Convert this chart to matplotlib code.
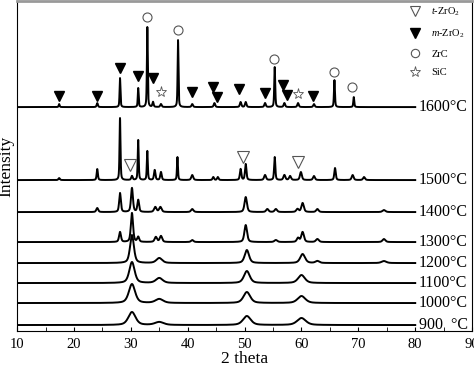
import matplotlib.pyplot as plt
import numpy as np
from matplotlib.lines import Line2D

plt.rcParams["font.family"] = "Liberation Serif"
plt.rcParams["mathtext.fontset"] = "custom"
plt.rcParams["mathtext.rm"] = "Liberation Serif"
plt.rcParams["mathtext.it"] = "Liberation Serif:italic"

# temperature labels and vertical offsets of each pattern
temps = ["1600°C", "1500°C", "1400°C", "1300°C", "1200°C", "1100°C", "1000°C", "900  °C"]
offsets = [224, 151, 119, 89, 68, 48, 28, 6]

# peaks: (2theta, height, fwhm)
peaks_1600 = [(17.4, 3, 0.2), (24.1, 4, 0.25), (28.1, 29, 0.18), (31.3, 19, 0.18),
              (32.9, 80, 0.18), (33.9, 5, 0.25), (35.3, 3, 0.3), (38.3, 67, 0.18),
              (40.8, 3, 0.3), (44.7, 4, 0.3), (49.3, 5, 0.3), (50.2, 5, 0.3),
              (53.6, 4, 0.3), (55.3, 40, 0.2), (57.0, 4, 0.3), (59.4, 4, 0.3),
              (62.2, 3, 0.3), (65.8, 27, 0.2), (69.2, 10, 0.2)]
peaks_1500 = [(17.4, 2, 0.3), (24.1, 11, 0.25), (28.1, 62, 0.2), (30.2, 4, 0.3),
              (31.3, 40, 0.2), (32.9, 29, 0.2), (34.2, 10, 0.3), (35.3, 8, 0.3),
              (38.2, 23, 0.2), (40.8, 5, 0.4), (44.5, 3, 0.3), (45.3, 3, 0.3),
              (49.3, 11, 0.3), (50.2, 16, 0.3), (53.6, 5, 0.4), (55.3, 23, 0.25),
              (57.0, 5, 0.4), (58.0, 4, 0.4), (59.9, 8, 0.4), (62.2, 4, 0.4),
              (65.9, 12, 0.3), (69.0, 5, 0.4), (71.0, 3, 0.4)]
peaks_1400 = [(24.1, 4, 0.4), (28.1, 19, 0.35), (30.2, 24, 0.4), (31.3, 12, 0.35),
              (34.3, 5, 0.5), (35.2, 5, 0.5), (40.8, 3, 0.5), (50.2, 15, 0.5),
              (54.0, 3, 0.5), (55.5, 3, 0.5), (59.3, 3, 0.5), (60.2, 9, 0.5),
              (62.8, 3, 0.5), (74.5, 2, 0.6)]
peaks_1300 = [(28.1, 10, 0.4), (30.2, 29, 0.45), (31.3, 5, 0.4), (34.4, 5, 0.5),
              (35.3, 6, 0.5), (40.8, 2, 0.5), (50.2, 17, 0.55), (55.5, 2, 0.6),
              (59.4, 4, 0.5), (60.2, 10, 0.55), (62.8, 3, 0.6), (74.5, 3, 0.6)]
peaks_1200 = [(30.2, 28, 0.8), (35.0, 5, 1.2), (50.4, 13, 0.9), (60.2, 9, 1.0),
              (62.8, 2, 0.8), (74.5, 2, 1.0)]
peaks_1100 = [(30.2, 21, 1.1), (35.0, 5, 1.4), (50.4, 12, 1.2), (60.0, 8, 1.4)]
peaks_1000 = [(30.2, 19, 1.3), (35.0, 4, 1.6), (50.4, 11, 1.4), (60.0, 7, 1.6)]
peaks_900 = [(30.2, 13, 1.5), (35.0, 3, 1.8), (50.4, 9, 1.6), (60.0, 7, 1.8)]
all_peaks = [peaks_1600, peaks_1500, peaks_1400, peaks_1300,
             peaks_1200, peaks_1100, peaks_1000, peaks_900]

# phase markers: 2theta and height of the symbol
m_zro2_x = [17.4, 24.1, 28.1, 31.3, 33.9, 40.8, 44.5, 45.1, 49.0, 53.6, 56.7, 57.5, 62.0]
m_zro2_y = [235, 235, 263, 255, 253, 239, 244, 234, 242, 238, 246, 236, 235]
zrc_x = [32.9, 38.3, 55.2, 65.7, 68.9]
zrc_y = [314, 301, 272, 259, 244]
sic_x = [35.3, 59.4]
sic_y = [239, 237]
t_zro2_x = [29.9, 49.7, 59.4]
t_zro2_y = [166, 174, 169]

two_theta = np.arange(10, 80.01, 0.02)


def pattern(peaks):
    y = np.zeros_like(two_theta)
    for pos, h, fw in peaks:
        hw = fw / 2
        lor = hw**2 / ((two_theta - pos) ** 2 + hw**2)
        gau = np.exp(-np.log(2) * ((two_theta - pos) / hw) ** 2)
        y += h * (0.5 * lor + 0.5 * gau)
    return y


fig = plt.figure(figsize=(4.74, 3.67), dpi=100)
ax = fig.add_axes([0.036, 0.098, 0.96, 0.899])

for label, off, pk in zip(temps, offsets, all_peaks):
    ax.plot(two_theta, pattern(pk) + off, color="black", lw=1.4)
    ax.text(80.6, off, label, fontsize=11.5, va="center", ha="left")

ax.plot(m_zro2_x, m_zro2_y, "v", ms=6.5, color="black", ls="none")
ax.plot(zrc_x, zrc_y, "o", ms=6.5, mfc="none", mec="#555555", mew=0.8, ls="none")
ax.plot(sic_x, sic_y, "*", ms=8, mfc="none", mec="#555555", mew=0.6, ls="none")
ax.plot(t_zro2_x, t_zro2_y, "v", ms=8, mfc="none", mec="#555555", mew=0.8, ls="none")

handles = [
    Line2D([], [], marker="v", ms=7, mfc="none", mec="#555555", mew=0.8, ls="none"),
    Line2D([], [], marker="v", ms=7, color="black", ls="none"),
    Line2D([], [], marker="o", ms=6, mfc="none", mec="#555555", mew=0.8, ls="none"),
    Line2D([], [], marker="*", ms=8, mfc="none", mec="#555555", mew=0.6, ls="none"),
]
labels = [r"$\it{t}$-ZrO$_2$", r"$\it{m}$-ZrO$_2$", "ZrC", "SiC"]
ax.legend(handles, labels, loc="upper right", bbox_to_anchor=(1.005, 1.015), frameon=False,
          fontsize=7.5, labelspacing=0.9, handletextpad=1.0, handlelength=1.2)

ax.set_xlim(10, 90)
ax.set_ylim(0, 330)
ax.set_xticks(np.arange(10, 91, 10))
ax.set_xticks(np.arange(15, 90, 10), minor=True)
ax.set_yticks([])
ax.tick_params(axis="x", which="both", direction="in", length=3, labelsize=10.5, pad=5)
ax.set_xlabel("2 theta", fontsize=12.5, labelpad=0)
ax.set_ylabel("Intensity", fontsize=12.5, labelpad=2)
ax.spines["top"].set_color("#999999")
ax.spines["top"].set_linewidth(2)

fig.savefig("out.png", dpi=100)
